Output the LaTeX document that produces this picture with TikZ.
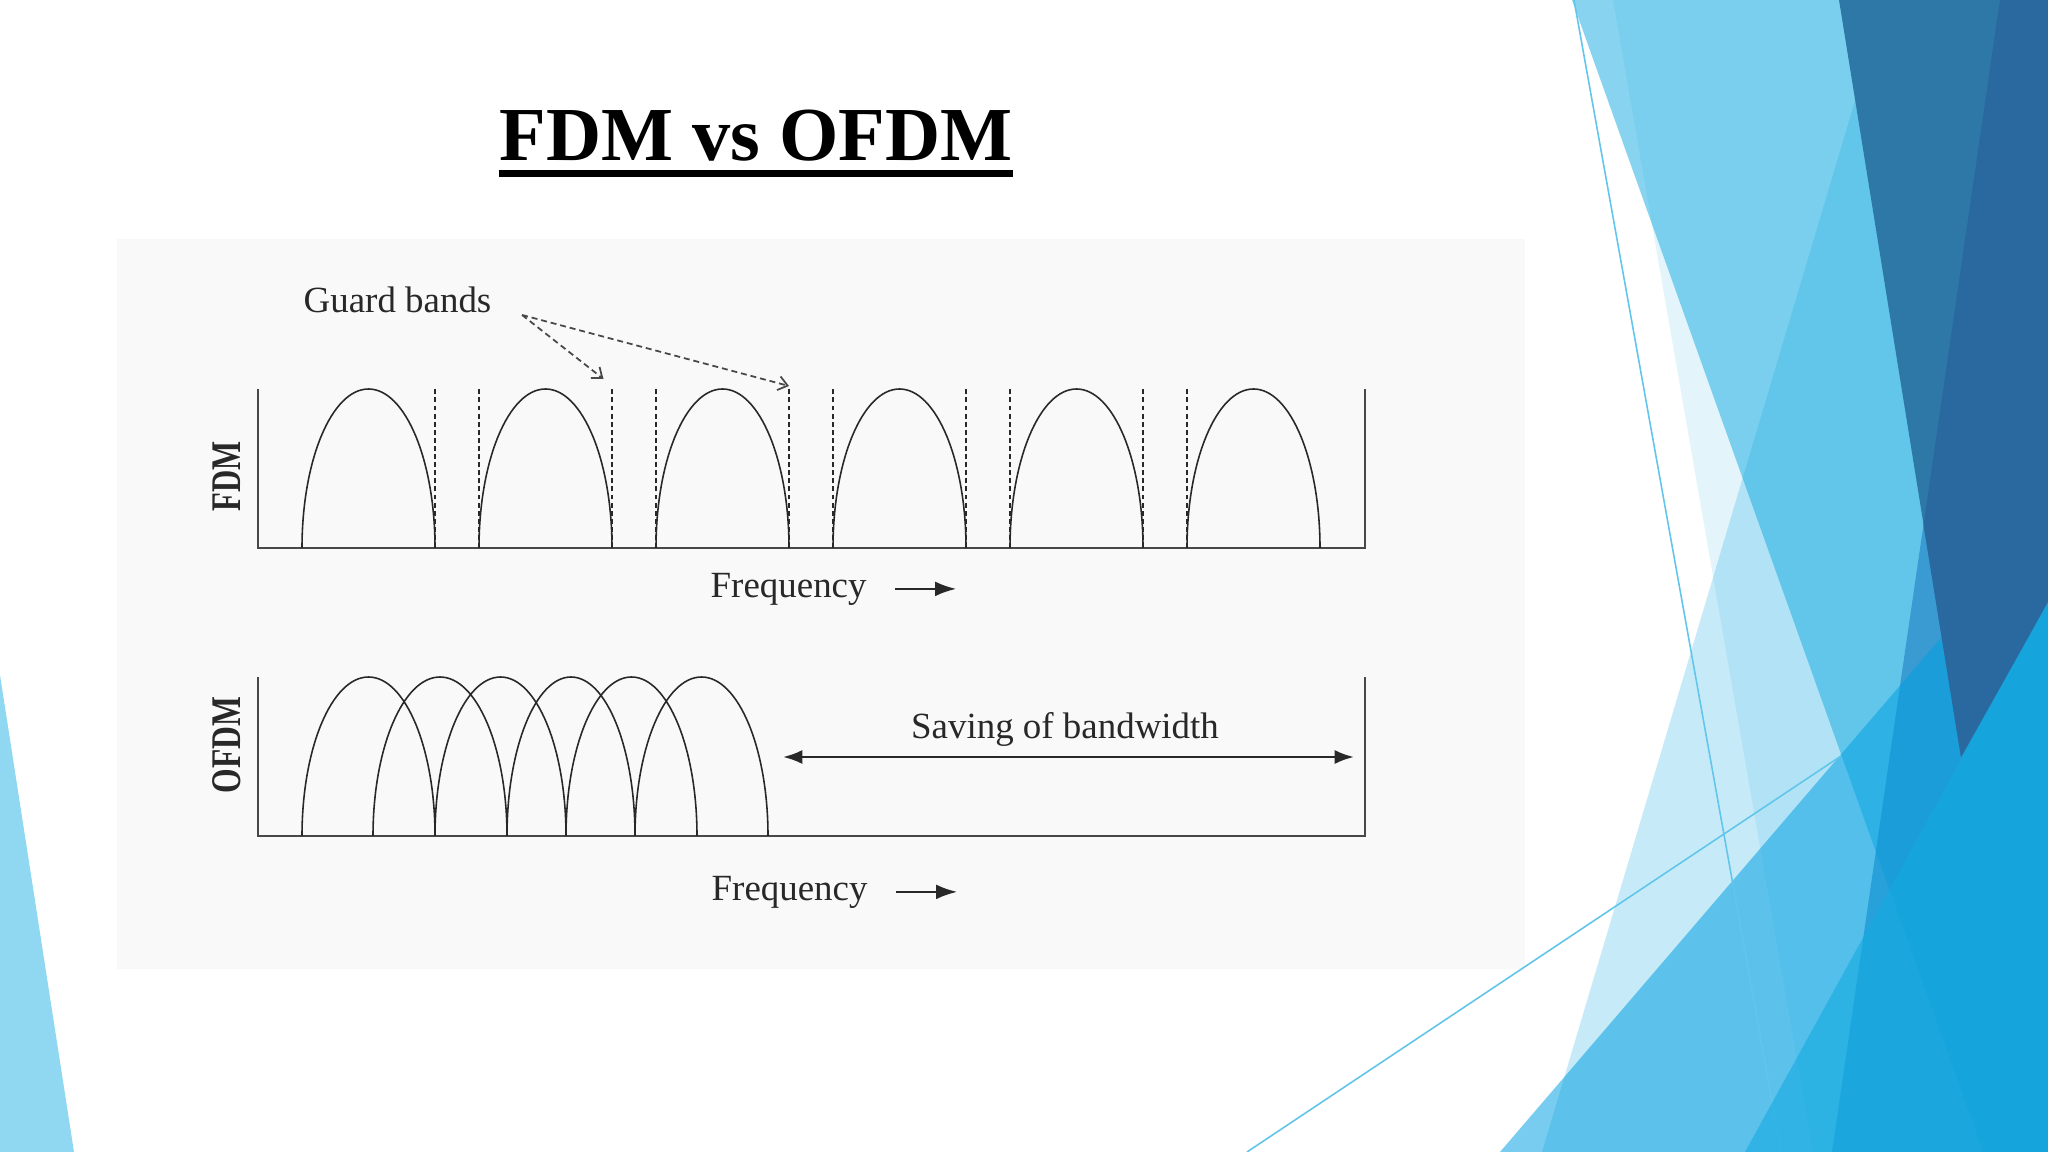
\documentclass[tikz,border=0pt]{standalone}
\usepackage{fontspec}
\usepackage{graphicx}
\setmainfont{Liberation Serif}
\usetikzlibrary{arrows.meta}
\definecolor{facet}{RGB}{28,173,228}
\definecolor{facetdeep}{RGB}{38,131,198}
\definecolor{facetsky}{RGB}{0,160,225}
\definecolor{facetnavy}{RGB}{46,120,168}
\definecolor{facetnight}{RGB}{42,104,160}
\definecolor{facetbright}{RGB}{20,170,225}
\definecolor{facetline}{RGB}{98,198,236}
\definecolor{facetleft}{RGB}{144,216,241}
\definecolor{chartbg}{RGB}{249,249,249}
\definecolor{ink}{RGB}{40,40,40}
\tikzset{
  band/.style={ink,line width=.45pt},
  axis/.style={ink!85,line width=.75pt},
  guardline/.style={ink,line width=.42pt,dash pattern=on 1.4pt off .9pt},
  label/.style={inner sep=0pt,text=ink,font=\fontsize{10.5}{12}\selectfont},
  sidelabel/.style={inner sep=0pt,rotate=90,text=ink,font=\fontsize{12}{14}\selectfont\bfseries},
  pointer/.style={ink!85,line width=.5pt,dash pattern=on 1.7pt off 1.1pt,-{Straight Barb[length=2.6pt,width=4pt]}},
  sweep/.style={ink,line width=.7pt,-{Latex[length=6pt,width=4.2pt]}},
  span/.style={sweep,{Latex[length=5.5pt,width=4pt]}-{Latex[length=5.5pt,width=4pt]}}
}
\begin{document}
\begin{tikzpicture}[x=0.01cm,y=-0.01cm]
\useasboundingbox (0,0) rectangle (2048,1152);
\fill[white] (0,0) rectangle (2048,1152);
\fill[chartbg] (117,239) rectangle (1525,969);
\fill[facetleft] (0,675) -- (74,1152) -- (0,1152) -- cycle;
\fill[facet,opacity=.52] (1572,0) -- (2048,0) -- (2048,1152) -- (1983,1152) -- cycle;
\fill[facet,opacity=.12] (1613,0) -- (2048,0) -- (2048,1152) -- (1813,1152) -- cycle;
\fill[facet,opacity=.25] (1885,0) -- (2048,0) -- (2048,1152) -- (1542,1152) -- cycle;
\fill[facetdeep,opacity=.65] (2000,0) -- (2048,0) -- (2048,1152) -- (1832,1152) -- cycle;
\fill[facetsky,opacity=.53] (1500,1152) -- (2048,513) -- (2048,1152) -- cycle;
\draw[facetline,line width=.45pt] (1574,0) -- (1781,1152) (1247,1152) -- (1841,756);
\fill[facetnavy] (1839,0) -- (2048,0) -- (2048,602) -- (1961,757) -- cycle;
\fill[facetnight] (2000,0) -- (2048,0) -- (2048,602) -- (1961,757) -- (1923.5,525) -- cycle;
\fill[facetbright,opacity=.6] (2048,602) -- (2048,1152) -- (1745,1152) -- cycle;
\node[inner sep=0pt,anchor=base,font=\fontsize{21.7}{26}\selectfont\bfseries] (title) at (756,161) {FDM vs OFDM};
\draw[line width=2pt] ([yshift=-.125cm]title.base west) -- ([yshift=-.125cm]title.base east);
\draw[axis] (258,389) -- (258,548) -- (1365,548) -- (1365,389);
\draw[band]
	(302,548) arc[start angle=180,end angle=360,x radius=66.5,y radius=159]
	(479,548) arc[start angle=180,end angle=360,x radius=66.5,y radius=159]
	(656,548) arc[start angle=180,end angle=360,x radius=66.5,y radius=159]
	(833,548) arc[start angle=180,end angle=360,x radius=66.5,y radius=159]
	(1010,548) arc[start angle=180,end angle=360,x radius=66.5,y radius=159]
	(1187,548) arc[start angle=180,end angle=360,x radius=66.5,y radius=159];
\draw[guardline]
	(435,548) -- (435,389) (479,548) -- (479,389)
	(612,548) -- (612,389) (656,548) -- (656,389)
	(789,548) -- (789,389) (833,548) -- (833,389)
	(966,548) -- (966,389) (1010,548) -- (1010,389)
	(1143,548) -- (1143,389) (1187,548) -- (1187,389);
\node[sidelabel] (fdm) at (227,476) {\scalebox{.73}[1]{FDM}};
\node[label,anchor=base west] (guard) at (303,313) {Guard bands};
\coordinate (gapA) at (603.5,379);
\coordinate (gapB) at (789,386);
\draw[pointer] ([xshift=.3cm,yshift=-.02cm]guard.base east) -- (gapA);
\draw[pointer] ([xshift=.3cm,yshift=-.02cm]guard.base east) -- (gapB);
\node[label,anchor=base west] (freqA) at (710,597) {Frequency};
\draw[sweep] ([xshift=.28cm]freqA.east) -- ([xshift=.89cm]freqA.east);
\draw[axis] (258,677) -- (258,836) -- (1365,836) -- (1365,677);
\draw[band]
	(302,836) arc[start angle=180,end angle=360,x radius=66.5,y radius=159]
	(373,836) arc[start angle=180,end angle=360,x radius=67,y radius=159]
	(435,836) arc[start angle=180,end angle=360,x radius=65.5,y radius=159]
	(507,836) arc[start angle=180,end angle=360,x radius=64,y radius=159]
	(566,836) arc[start angle=180,end angle=360,x radius=65.5,y radius=159]
	(635,836) arc[start angle=180,end angle=360,x radius=66.5,y radius=159];
\node[sidelabel] (ofdm) at (227,745) {\scalebox{.75}[1]{OFDM}};
\node[label,anchor=base] (saving) at (1065,738) {Saving of bandwidth};
\coordinate (saveL) at (783,757);
\coordinate (saveR) at (1354,757);
\draw[span] (saveL) -- (saveR);
\node[label,anchor=base west] (freqB) at (711,900) {Frequency};
\draw[sweep] ([xshift=.28cm]freqB.east) -- ([xshift=.89cm]freqB.east);
\end{tikzpicture}
\end{document}
